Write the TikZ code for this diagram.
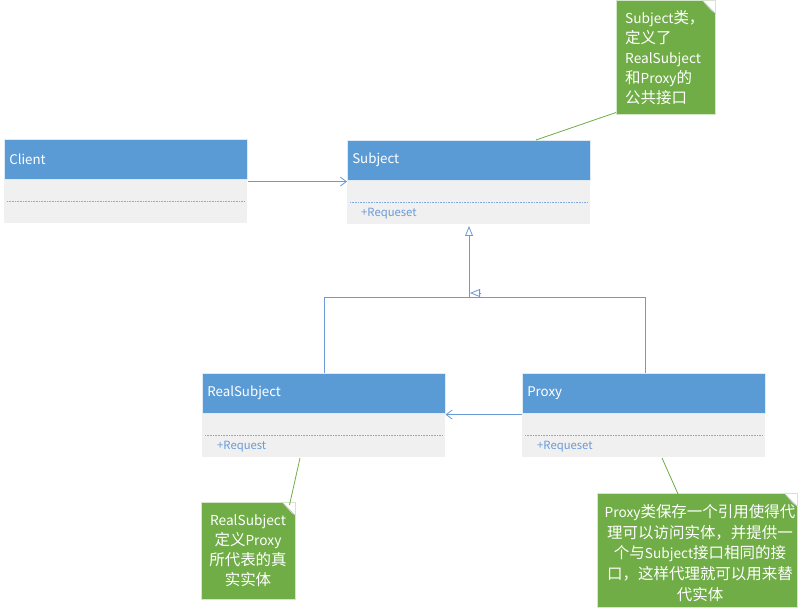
\documentclass[tikz,border=0pt]{standalone}
\usepackage{fontspec}
\setmainfont{Noto Sans CJK SC}
\newfontfamily\cjk[Scale=1.13]{Noto Sans CJK SC}
\usetikzlibrary{arrows.meta,calc}
\definecolor{hdr}{RGB}{91,155,213}
\definecolor{bodyc}{RGB}{240,240,240}
\definecolor{lnc}{RGB}{106,155,213}
\definecolor{dotc}{RGB}{130,170,220}
\definecolor{notec}{RGB}{112,173,71}
\definecolor{foldc}{RGB}{235,235,235}
\tikzset{
  hdrbox/.style={fill=hdr, draw=white!80!hdr, line width=0.6pt, anchor=north west, text=white,
    font=\fontsize{13.3}{15}\selectfont, align=left, inner xsep=5pt, inner ysep=0pt,
    text width=233pt, minimum height=40pt},
  bodybox/.style={fill=bodyc, draw=none, anchor=north west, minimum width=243pt, minimum height=43pt, inner sep=0pt},
  meth/.style={anchor=west, text=lnc, font=\fontsize{11.3}{13}\selectfont, inner sep=0pt},
  dotline/.style={draw=dotc, dash pattern=on 0.8pt off 0.8pt, line width=0.8pt},
  conn/.style={draw=lnc, line width=0.8pt},
  assoc/.style={conn, -{Straight Barb[length=6pt,width=9pt]}},
  inh/.style={conn, -{Triangle[open,length=10pt,width=8pt,fill=white]}},
  notebox/.style={fill=notec, draw=white!70!notec, line width=0.5pt, anchor=north west, text=white,
    inner sep=0pt,
    path picture={
      \fill[white] (path picture bounding box.north east) -- ++(-13,0) -- ++(13,13) -- cycle;
      \filldraw[fill=foldc, draw=black!20, line width=0.4pt]
        ($(path picture bounding box.north east)+(-13,0)$) -- ($(path picture bounding box.north east)+(0,13)$)
        -- ($(path picture bounding box.north east)+(-4,10)$) -- cycle;
    }},
  notetext/.style={text=white, inner sep=0pt, font=\fontsize{13.7}{20}\selectfont},
  noteconn/.style={draw=notec, line width=0.8pt}
}
\begin{document}
\begin{tikzpicture}[x=1pt,y=-1pt]
\useasboundingbox (0,0) rectangle (810,609);

% Client
\node[hdrbox] (clientH) at (4,139) {Client};
\node[bodybox] (clientB) at (clientH.south west) {};
\draw[dotline] ($(clientB.north west)+(3,22)$) -- ($(clientB.north east)+(-3,22)$);

% Subject
\node[hdrbox] (subjH) at (347,140) {Subject};
\node[bodybox] (subjB) at (subjH.south west) {};
\draw[dotline] ($(subjB.north west)+(3,22)$) -- ($(subjB.north east)+(-3,22)$);
\node[meth] (subjM) at ($(subjB.north west)+(14,33)$) {+Requeset};

% RealSubject
\node[hdrbox] (realH) at (202,373) {RealSubject};
\node[bodybox] (realB) at (realH.south west) {};
\draw[dotline] ($(realB.north west)+(3,22)$) -- ($(realB.north east)+(-3,22)$);
\node[meth] (realM) at ($(realB.north west)+(15,33)$) {+Request};

% Proxy
\node[hdrbox] (proxH) at (522,373) {Proxy};
\node[bodybox] (proxB) at (proxH.south west) {};
\draw[dotline] ($(proxB.north west)+(3,22)$) -- ($(proxB.north east)+(-3,22)$);
\node[meth] (proxM) at ($(proxB.north west)+(15,33)$) {+Requeset};

% associations
\draw[assoc] ($(clientH.south east)+(0,2)$) -- ($(subjH.south west)+(0,1)$);
\draw[assoc] ($(proxH.south west)+(0,1)$) -- ($(realH.south east)+(0,1)$);

% inheritance
\coordinate (jn) at (469,297);
\draw[inh] ($(realH.north west)+(122,0)$) |- (jn) -- ($(subjB.south west)+(122,2)$);
\draw[conn] ($(proxH.north west)+(123,0)$) |- (jn);
\draw[inh] ($(jn)+(12,-4)$) -- ($(jn)+(1,-4)$);

% notes
\node[notebox, minimum width=99pt, minimum height=114pt] (noteS) at (616,0) {};
\node[notetext, anchor=north west, align=left] (noteSt) at (625,10)
  {Subject{\cjk 类，}\\{\cjk 定义了}\\RealSubject\\{\cjk 和}Proxy{\cjk 的}\\{\cjk 公共接口}};

\node[notebox, minimum width=94pt, minimum height=97pt] (noteR) at (201,502) {};
\node[notetext, anchor=north, align=center] (noteRt) at (248,514)
  {RealSubject\\{\cjk 定义}Proxy\\{\cjk 所代表的真}\\{\cjk 实实体}};

\node[notebox, minimum width=200pt, minimum height=114pt] (noteP) at (597,493) {};
\node[notetext, anchor=north, align=center, font=\fontsize{13.7}{20.8}\selectfont] (notePt) at (700,504)
  {Proxy{\cjk 类保存一个引用使得代}\\{\cjk 理可以访问实体，并提供一}\\{\cjk 个与}Subject{\cjk 接口相同的接}\\{\cjk 口，这样代理就可以用来替}\\{\cjk 代实体}};

\draw[noteconn] ($(subjH.north west)+(189,0)$) -- ($(noteS.south west)+(0,-2)$);
\draw[noteconn] ($(realB.south west)+(98,1)$) -- ($(noteR.north east)+(-6,3)$);
\draw[noteconn] ($(proxB.south west)+(140,1)$) -- ($(noteP.north west)+(81,1)$);
\end{tikzpicture}
\end{document}
